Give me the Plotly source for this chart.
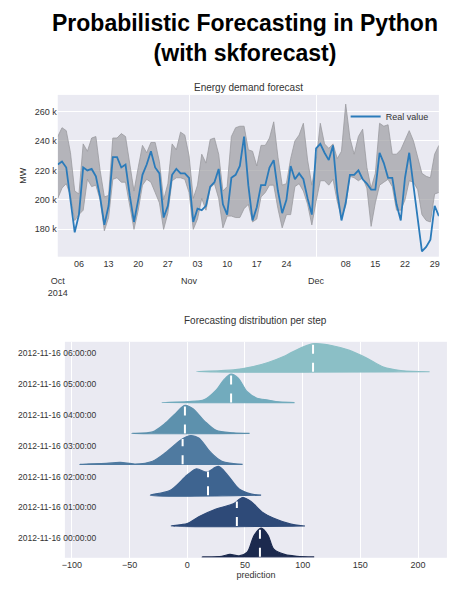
import numpy as np
import pandas as pd
import plotly.graph_objects as go

dates = pd.date_range("2014-10-01", "2014-12-30", freq="D")
real = [224,226,222,200,178,190,222,220,221,216,202,183,196,229,229,222,224,203,185,200,217,224,233,222,218,188,196,217,221,218,218,
        215,185,194,193,196,209,212,221,197,190,215,217,223,243,210,186,195,210,210,222,227,206,191,200,223,214,218,214,201,190,
        235,238,232,227,237,205,186,198,217,217,220,214,211,207,207,232,225,215,215,197,186,215,232,210,185,165,168,173,196,189]
upper = [243,249,247,232,206,204,238,233,242,243,220,202,203,242,242,245,243,224,206,222,237,232,239,239,226,200,211,238,234,246,244,
         230,201,210,231,225,241,242,231,206,209,243,249,250,250,234,233,223,237,237,242,253,229,210,211,228,240,244,252,227,210,
         226,252,238,235,238,228,233,265,242,231,243,248,222,208,218,252,250,251,231,231,234,240,247,240,228,218,216,215,231,237]
lower = [201,208,211,203,186,190,193,214,209,210,200,179,188,214,215,212,212,196,180,193,210,214,212,205,198,180,191,213,215,215,214,
         205,180,187,201,193,208,211,201,181,189,189,188,188,194,197,185,187,202,205,210,210,194,181,190,190,209,211,206,197,183,
         199,213,213,210,214,199,188,196,216,215,213,215,208,182,198,210,212,214,209,193,193,200,213,212,207,190,186,185,204,205]
real = [v*1000 for v in real]; upper = [v*1000 for v in upper]; lower = [v*1000 for v in lower]

day_ticks = ["2014-10-06","2014-10-13","2014-10-20","2014-10-27","2014-11-03","2014-11-10","2014-11-17","2014-11-24",
             "2014-12-08","2014-12-15","2014-12-22","2014-12-29"]
day_labels = ["06","13","20","27","03","10","17","24","08","15","22","29"]
month_ticks = ["2014-10-01","2014-11-01","2014-12-01"]
month_labels = ["<br>Oct<br>2014","<br>Nov","<br>Dec"]

steps = ["2012-11-16 00:00:00","2012-11-16 01:00:00","2012-11-16 02:00:00","2012-11-16 03:00:00",
         "2012-11-16 04:00:00","2012-11-16 05:00:00","2012-11-16 06:00:00"]
ridge_x = [
    [13,30,37,45,52,58,64,70,75,85,95,110],
    [-14,0,10,25,40,48,55,65,75,90,102],
    [-32,-15,0,8,17,27,35,45,55,64],
    [-93,-70,-58,-45,-30,-18,-5,3,10,20,30,48],
    [-48,-30,-20,-10,-2,5,15,25,40,54],
    [-22,0,15,25,32,38,44,52,60,70,80,93],
    [8,40,55,70,85,100,110,125,140,155,170,185,210],
]
ridge_h = [
    [0,0.02,0.08,0.03,0.15,0.7,0.93,0.7,0.25,0.07,0.02,0],
    [0,0.08,0.3,0.55,0.72,0.92,0.8,0.45,0.25,0.06,0],
    [0,0.15,0.65,0.85,0.75,0.93,0.65,0.2,0.04,0],
    [0,0.03,0.06,0.01,0.1,0.4,0.8,0.93,0.85,0.4,0.1,0],
    [0,0.05,0.3,0.65,0.91,0.8,0.4,0.1,0.02,0],
    [0,0.03,0.1,0.4,0.75,0.92,0.8,0.35,0.15,0.08,0.02,0],
    [0,0.06,0.15,0.3,0.52,0.8,0.91,0.85,0.7,0.45,0.15,0.04,0],
]
medians = [63,43,18,-4,-2,38,109]
colors = ["#1c2a4e","#2e4a78","#3e6490","#4f7aa0","#5d91ad","#72abbd","#8bbfc6"]

fig = go.Figure()
fig.add_trace(go.Scatter(x=dates, y=upper, mode="lines", line=dict(color="#9a9aa0", width=0.8),
                         showlegend=False, xaxis="x", yaxis="y"))
fig.add_trace(go.Scatter(x=dates, y=lower, mode="lines", line=dict(color="#9a9aa0", width=0.8),
                         fill="tonexty", fillcolor="rgba(150,150,155,0.65)", showlegend=False, xaxis="x", yaxis="y"))
fig.add_trace(go.Scatter(x=dates, y=real, mode="lines", line=dict(color="#2b7bba", width=1.8),
                         name="Real value", xaxis="x3", yaxis="y"))

for i in range(6, -1, -1):
    xs = ridge_x[i]; hs = ridge_h[i]
    fig.add_trace(go.Scatter(x=xs + [xs[-1], xs[0]], y=[i + h for h in hs] + [i, i], mode="lines",
                             line=dict(color=colors[i], width=1.2, shape="spline", smoothing=0.9),
                             fill="toself", fillcolor=colors[i], showlegend=False, xaxis="x2", yaxis="y2"))
    mh = float(np.interp(medians[i], xs, hs))
    fig.add_trace(go.Scatter(x=[medians[i], medians[i]], y=[i, i + mh], mode="lines",
                             line=dict(color="white", width=2, dash="dash"), showlegend=False,
                             xaxis="x2", yaxis="y2"))

tick_font = dict(family="Liberation Sans, Arial", size=9, color="#333")
bg = "#eaeaf2"
xr = ["2014-10-01", "2014-12-30"]
annots = [
    dict(text="<b>Probabilistic Forecasting in Python<br>(with skforecast)</b>", x=0.5, y=1.0,
         xref="paper", yref="paper", xanchor="center", yanchor="top", showarrow=False,
         font=dict(family="Liberation Sans, Arial", size=23, color="black")),
    dict(text="Energy demand forecast", x=0.507, y=0.853, xref="paper", yref="paper", yanchor="bottom",
         showarrow=False, font=dict(size=10, color="#333")),
    dict(text="Forecasting distribution per step", x=0.523, y=0.463, xref="paper", yref="paper",
         yanchor="bottom", showarrow=False, font=dict(size=10, color="#333")),
]
for i, s in enumerate(steps):
    annots.append(dict(text=s, x=0.192, y=i + 0.6, xref="paper", yref="y2", xanchor="right",
                       yanchor="middle", showarrow=False, font=dict(size=8.5, color="#333")))

fig.update_layout(
    width=474, height=595, margin=dict(l=0, r=0, t=0, b=0, autoexpand=False),
    paper_bgcolor="white", plot_bgcolor=bg,
    font=dict(family="Liberation Sans, Arial", color="#333"),
    xaxis=dict(domain=[0.105, 0.909], anchor="y", range=xr, tickvals=month_ticks, ticktext=month_labels,
               showgrid=True, gridcolor="white", gridwidth=1.2, ticks="", tickfont=tick_font, zeroline=False,
               automargin=False, ticklabelstandoff=6),
    xaxis3=dict(overlaying="x", anchor="y", range=xr, tickvals=day_ticks, ticktext=day_labels,
                showgrid=False, ticks="", tickfont=tick_font, zeroline=False, automargin=False),
    yaxis=dict(domain=[0.582, 0.854], anchor="x", range=[161400, 271300], tickvals=[180000, 200000, 220000, 240000, 260000],
               ticktext=["180 k", "200 k", "220 k", "240 k", "260 k"], showgrid=True, gridcolor="white",
               gridwidth=1.2, tickfont=tick_font, zeroline=False, automargin=False,
               title=dict(text="MW", font=dict(size=9), standoff=6)),
    xaxis2=dict(domain=[0.120, 0.926], anchor="y2", range=[-106, 225], tickvals=[-100, -50, 0, 50, 100, 150, 200],
                ticktext=["−100", "−50", "0", "50", "100", "150", "200"], showgrid=True, gridcolor="white",
                gridwidth=1.2, tickfont=tick_font, zeroline=False, automargin=False,
                title=dict(text="prediction", font=dict(size=9), standoff=2)),
    yaxis2=dict(domain=[0.076, 0.439], anchor="x2", range=[-0.03, 6.97], showticklabels=False,
                showgrid=False, zeroline=False, ticks="", automargin=False),
    legend=dict(x=0.898, y=0.842, xanchor="right", yanchor="top", bgcolor="rgba(0,0,0,0)",
                font=dict(size=9)),
    annotations=annots,
)
fig.write_html("out.html")
